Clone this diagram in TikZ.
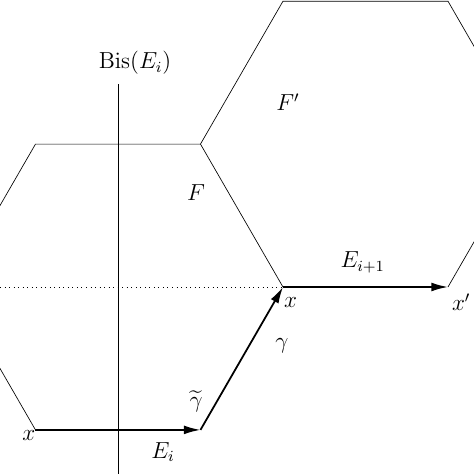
\documentclass[tikz,border=0pt]{standalone}
\usepackage{amsmath,amssymb}
\usetikzlibrary{math}
\usetikzlibrary{calc}
\usetikzlibrary{arrows.meta}

\begin{document}
\begin{tikzpicture}[line width=0.35mm,
  every node/.style={font=\large},
  edge/.style={line width=0.12mm},
  path/.style={line width=0.32mm,-{Latex[length=3mm,width=1.6mm]}}]

  \tikzmath{
    \side = 3;                 % side of the hexagons
    \h    = \side*sqrt(3)/2;   % half height of a hexagon
  }

  % frame of the picture
  \useasboundingbox (-5.145,-3.4) rectangle (3.472,5.218);
  \clip (-5.145,-3.4) rectangle (3.472,5.218);

  % vertices
  \coordinate (x)  at (0,0);
  \coordinate (xp) at (\side,0);
  \coordinate (y)  at (-\side/2,-\h);
  \coordinate (z)  at (-3*\side/2,-\h);
  \coordinate (FL) at (-2*\side,0);
  \coordinate (FA) at (-3*\side/2,\h);
  \coordinate (FB) at (-\side/2,\h);
  \coordinate (GA) at (0,2*\h);
  \coordinate (GB) at (\side,2*\h);
  \coordinate (GC) at (3*\side/2,\h);

  % hexagon F
  \draw[edge] (z) -- (FL) -- (FA) -- (FB) -- (x);
  % hexagon F'
  \draw[edge] (FB) -- (GA) -- (GB) -- (GC) -- (xp);

  % bisector and horizontal line through x
  \coordinate (B1) at (-\side,3.69);
  \coordinate (B2) at (-\side,-3.4);
  \draw[edge] (B1) -- (B2);
  \draw[edge, dotted] (-5.145,0) -- (x);

  % path
  \draw[path] (z) -- (y);
  \draw[path] (y) -- (x);
  \draw[path] (x) -- (xp);

  % labels
  \node (bis) at (-2.69,4.07) {$\mathrm{Bis}(E_i)$};
  \node (Fp)  at (0.09,3.36)  {$F'$};
  \node (F)   at (-1.58,1.71) {$F$};
  \node (Eip) at (1.45,0.45)  {$E_{i+1}$};
  \node (lx)  at (0.14,-0.28) {$x$};
  \node (lxp) at (3.24,-0.28) {$x'$};
  \node (gam) at (-0.02,-1.07) {$\gamma$};
  \node (tg)  at (-1.58,-2.08) {$\widetilde{\gamma}$};
  \node (lz)  at (-4.62,-2.70) {$x$};
  \node (Ei)  at (-2.18,-3.0) {$E_i$};

\end{tikzpicture}
\end{document}
